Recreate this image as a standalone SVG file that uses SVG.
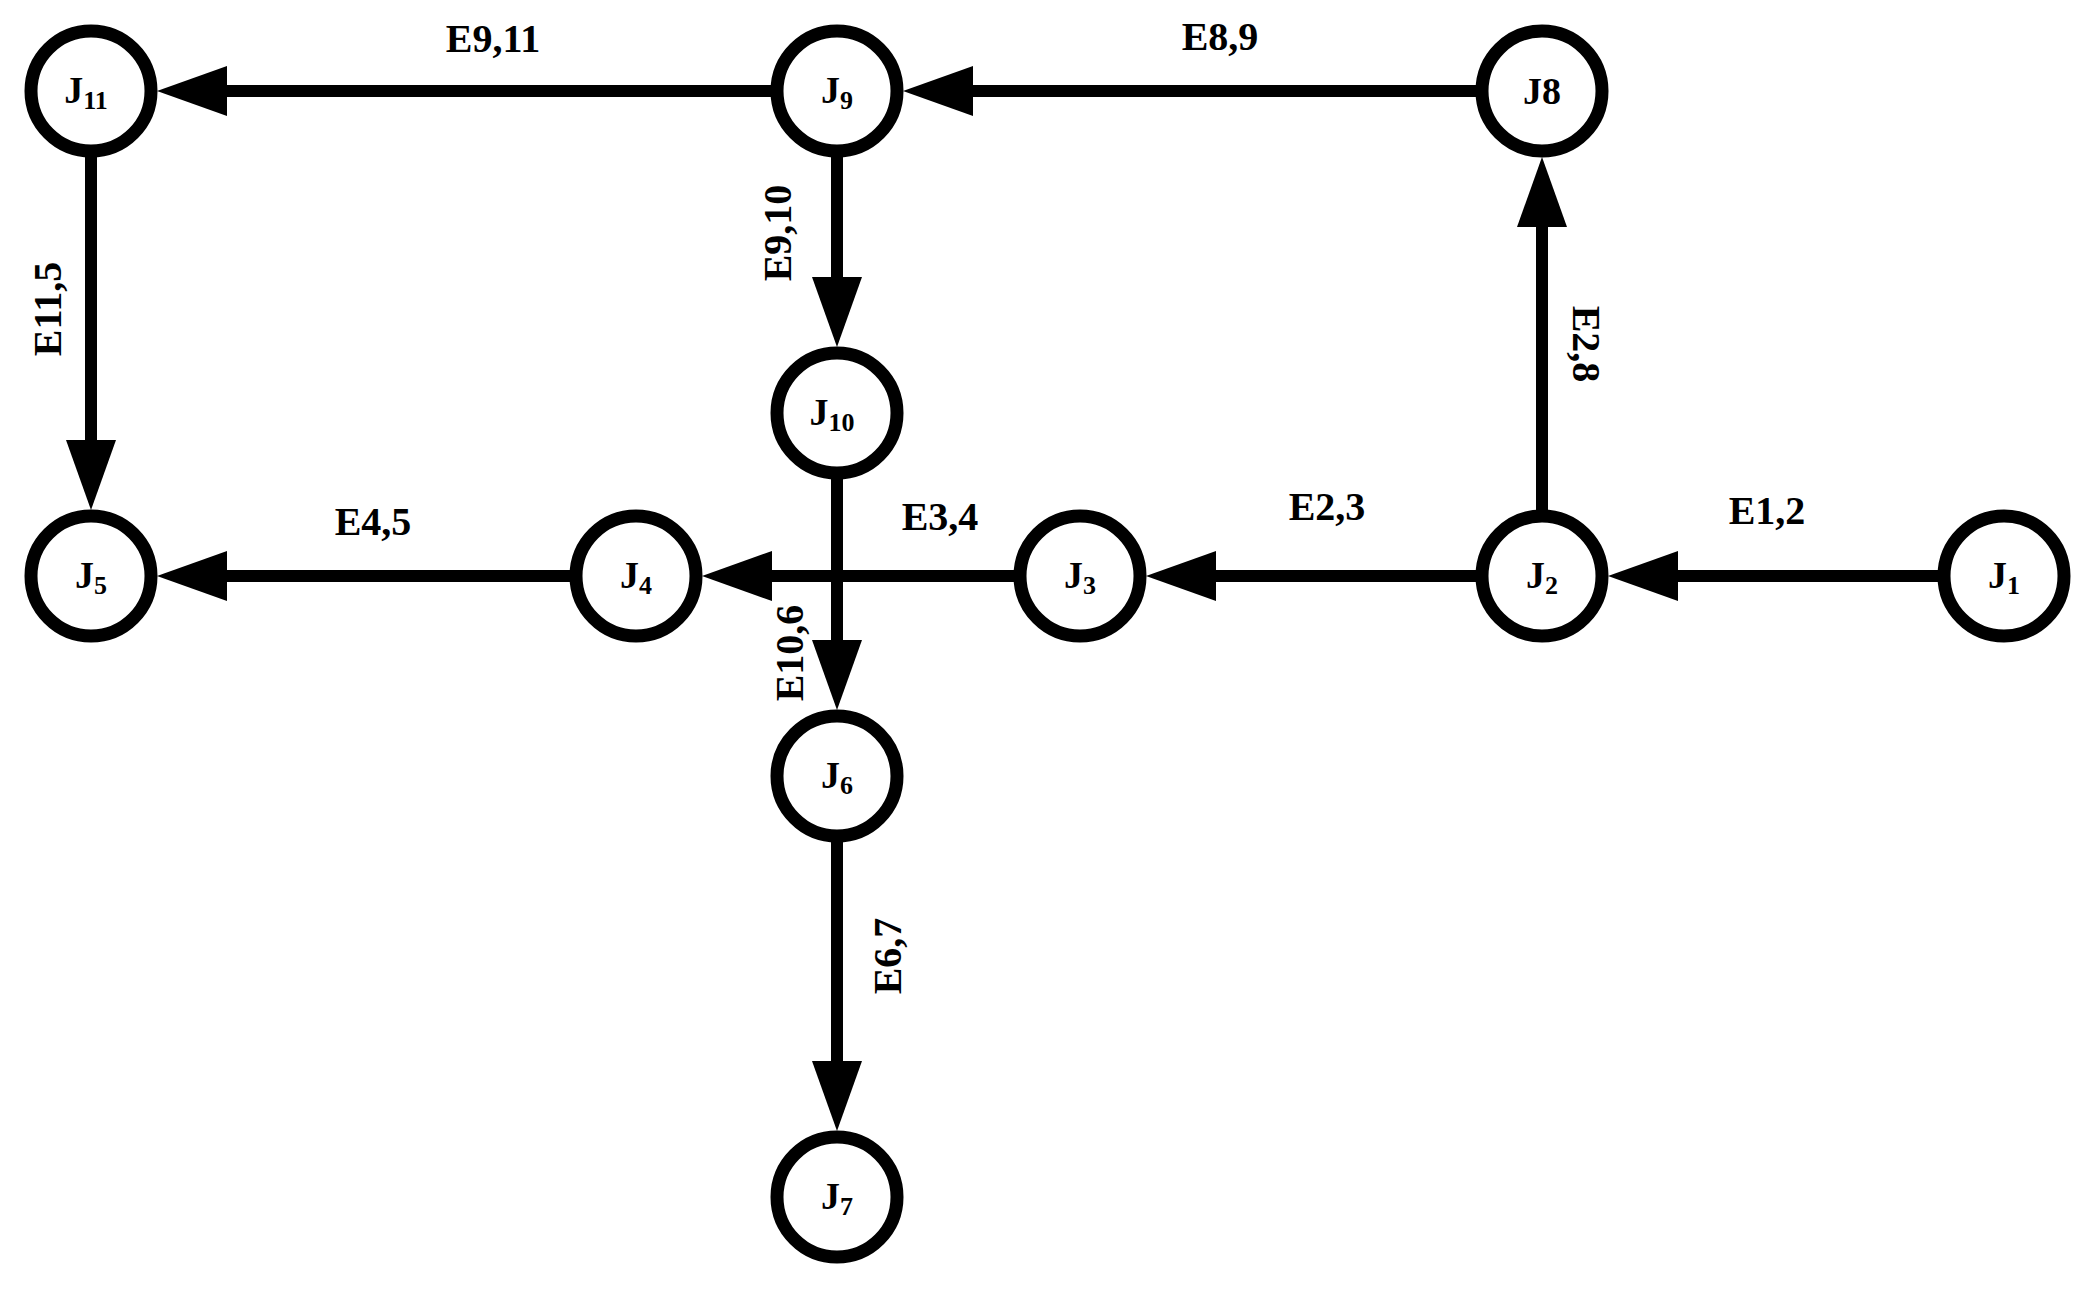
<svg xmlns="http://www.w3.org/2000/svg" width="2090" height="1290" viewBox="0 0 2090 1290">
<style>
.n circle{fill:#fff;stroke:#000;stroke-width:13}
.n text{font-family:"Liberation Serif",serif;font-weight:bold;font-size:38px;text-anchor:middle}
.s{font-size:26px}
.c line{stroke:#000;stroke-width:12}
.l{font-family:"Liberation Serif",serif;font-weight:bold;font-size:40px;text-anchor:middle}
</style>
<defs><marker id="a" viewBox="0 -25 70 50" refX="0" refY="0" markerWidth="70" markerHeight="50" markerUnits="userSpaceOnUse" orient="auto"><path d="M0,-25L70,0L0,25z"/></marker></defs>
<rect width="2090" height="1290" fill="#fff"/>
<g class="c" id="connectors">
<line x1="1938" y1="576" x2="1678" y2="576" marker-end="url(#a)"/>
<line x1="1476" y1="576" x2="1216" y2="576" marker-end="url(#a)"/>
<line x1="1014" y1="576" x2="772" y2="576" marker-end="url(#a)"/>
<line x1="570" y1="576" x2="227" y2="576" marker-end="url(#a)"/>
<line x1="1542" y1="510" x2="1542" y2="227" marker-end="url(#a)"/>
<line x1="1476" y1="91" x2="973" y2="91" marker-end="url(#a)"/>
<line x1="771" y1="91" x2="227" y2="91" marker-end="url(#a)"/>
<line x1="91" y1="157" x2="91" y2="440" marker-end="url(#a)"/>
<line x1="837" y1="157" x2="837" y2="277" marker-end="url(#a)"/>
<line x1="837" y1="479" x2="837" y2="640" marker-end="url(#a)"/>
<line x1="837" y1="842" x2="837" y2="1061" marker-end="url(#a)"/>
</g>
<g id="labels">
<text class="l" x="493" y="52">E9,11</text>
<text class="l" x="1220" y="50">E8,9</text>
<text class="l" x="373" y="535">E4,5</text>
<text class="l" x="940" y="530">E3,4</text>
<text class="l" x="1327" y="520">E2,3</text>
<text class="l" x="1767" y="524">E1,2</text>
<text class="l" transform="translate(791,233) rotate(-90)">E9,10</text>
<text class="l" transform="translate(61,309) rotate(-90)">E11,5</text>
<text class="l" transform="translate(1573,344) rotate(90)">E2,8</text>
<text class="l" transform="translate(803,653) rotate(-90)">E10,6</text>
<text class="l" transform="translate(901,956) rotate(-90)">E6,7</text>
</g>
<g class="n" id="J11"><circle cx="91" cy="91" r="60"/><text x="86" y="103">J<tspan class="s" dy="6">11</tspan></text></g>
<g class="n" id="J9"><circle cx="837" cy="91" r="60"/><text x="837" y="103">J<tspan class="s" dy="6">9</tspan></text></g>
<g class="n" id="J8"><circle cx="1542" cy="91" r="60"/><text x="1542" y="104">J8</text></g>
<g class="n" id="J10"><circle cx="837" cy="413" r="60"/><text x="832" y="425">J<tspan class="s" dy="6">10</tspan></text></g>
<g class="n" id="J5"><circle cx="91" cy="576" r="60"/><text x="91" y="588">J<tspan class="s" dy="6">5</tspan></text></g>
<g class="n" id="J4"><circle cx="636" cy="576" r="60"/><text x="636" y="588">J<tspan class="s" dy="6">4</tspan></text></g>
<g class="n" id="J3"><circle cx="1080" cy="576" r="60"/><text x="1080" y="588">J<tspan class="s" dy="6">3</tspan></text></g>
<g class="n" id="J2"><circle cx="1542" cy="576" r="60"/><text x="1542" y="588">J<tspan class="s" dy="6">2</tspan></text></g>
<g class="n" id="J1"><circle cx="2004" cy="576" r="60"/><text x="2004" y="588">J<tspan class="s" dy="6">1</tspan></text></g>
<g class="n" id="J6"><circle cx="837" cy="776" r="60"/><text x="837" y="788">J<tspan class="s" dy="6">6</tspan></text></g>
<g class="n" id="J7"><circle cx="837" cy="1197" r="60"/><text x="837" y="1209">J<tspan class="s" dy="6">7</tspan></text></g>
</svg>
